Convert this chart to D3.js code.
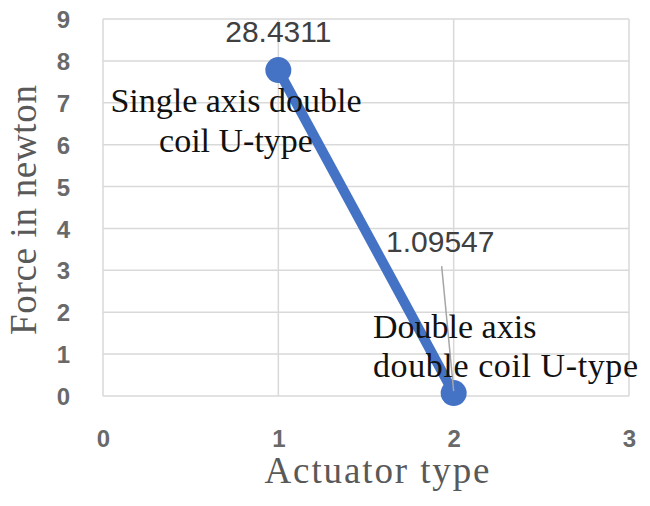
<!DOCTYPE html>
<html><head><meta charset="utf-8">
<script src="https://cdn.jsdelivr.net/npm/d3@7"></script>
<style>html,body{margin:0;padding:0;background:#fff;}</style>
</head><body>
<svg id="c" width="650" height="506"></svg>
<script>
const actuatorX = [1, 2];
const forceValues = [7.78, 0.07];
const dataLabels = ["28.4311", "1.09547"];
const categoryNames = [["Single axis double", "coil U-type"], ["Double axis", "double coil U-type"]];
const xTicks = [0, 1, 2, 3];
const yTicks = [0, 1, 2, 3, 4, 5, 6, 7, 8, 9];

const svg = d3.select("#c");
const x = d3.scaleLinear().domain([0, 3]).range([103, 629]);
const y = d3.scaleLinear().domain([0, 9]).range([396, 19]);
const grid = "#d9d9d9", tick = "#595959";

// gridlines
svg.append("g").selectAll("line").data(yTicks).join("line")
  .attr("x1", x(0)).attr("x2", x(3)).attr("y1", d => y(d)).attr("y2", d => y(d))
  .attr("stroke", grid).attr("stroke-width", 1.5);
svg.append("g").selectAll("line").data(xTicks).join("line")
  .attr("y1", y(0)).attr("y2", y(9)).attr("x1", d => x(d)).attr("x2", d => x(d))
  .attr("stroke", grid).attr("stroke-width", 1.5);

// axes via d3 axis, styled
const yAxis = svg.append("g").attr("transform", `translate(${x(0)},0)`)
  .call(d3.axisLeft(y).tickValues(yTicks).tickFormat(d3.format("d")).tickSize(0).tickPadding(33));
const xAxis = svg.append("g").attr("transform", `translate(0,${y(0)})`)
  .call(d3.axisBottom(x).tickValues(xTicks).tickFormat(d3.format("d")).tickSize(0).tickPadding(34));
[yAxis, xAxis].forEach(a => {
  a.select(".domain").remove();
  a.selectAll("text").attr("fill", tick).attr("font-family", "Liberation Sans, Arial, sans-serif")
    .attr("font-size", 24).attr("font-weight", "bold").attr("opacity", 0.9);
});
yAxis.selectAll("text").attr("dy", "0.36em");
xAxis.selectAll("text").attr("dy", "0.71em");

// axis titles
svg.append("text").attr("x", 377).attr("y", 483).attr("text-anchor", "middle")
  .attr("font-family", "Liberation Serif, Times New Roman, serif").attr("font-size", 37)
  .attr("fill", tick).attr("textLength", 225).text("Actuator type");
svg.append("text").attr("transform", "translate(36,210) rotate(-90)").attr("text-anchor", "middle")
  .attr("font-family", "Liberation Serif, Times New Roman, serif").attr("font-size", 37)
  .attr("fill", tick).attr("textLength", 250).text("Force in newton");

// line and markers
const pts = actuatorX.map((d, i) => [d, forceValues[i]]);
svg.append("path").datum(pts)
  .attr("d", d3.line().x(d => x(d[0])).y(d => y(d[1])))
  .attr("fill", "none").attr("stroke", "#4472c4").attr("stroke-width", 10);
svg.append("g").selectAll("circle").data(pts).join("circle")
  .attr("cx", d => x(d[0])).attr("cy", d => y(d[1])).attr("r", 13).attr("fill", "#4472c4");

// leader line for second label
svg.append("line").attr("x1", x(2) - 12).attr("y1", y(forceValues[1]) - 127)
  .attr("x2", x(2)).attr("y2", y(forceValues[1]) - 2)
  .attr("stroke", "#a6a6a6").attr("stroke-width", 1.5);

// data labels
const lf = "Liberation Sans, Arial, sans-serif";
svg.append("text").attr("x", x(1)).attr("y", 42).attr("text-anchor", "middle")
  .attr("font-family", lf).attr("font-size", 30).attr("fill", "#404040").text(dataLabels[0]);
svg.append("text").attr("x", 386).attr("y", 252).attr("text-anchor", "start")
  .attr("font-family", lf).attr("font-size", 30).attr("fill", "#404040").text(dataLabels[1]);

// category annotations
const sf = "Liberation Serif, Times New Roman, serif";
const a1 = svg.append("text").attr("font-family", sf).attr("font-size", 34).attr("fill", "#111").attr("text-anchor", "middle");
a1.append("tspan").attr("x", 236).attr("y", 112).text(categoryNames[0][0]);
a1.append("tspan").attr("x", 236).attr("y", 152).text(categoryNames[0][1]);
const a2 = svg.append("text").attr("font-family", sf).attr("font-size", 34).attr("fill", "#111").attr("text-anchor", "start");
a2.append("tspan").attr("x", 373).attr("y", 338).text(categoryNames[1][0]);
a2.append("tspan").attr("x", 373).attr("y", 377).attr("textLength", 265).text(categoryNames[1][1]);
</script>
</body></html>
